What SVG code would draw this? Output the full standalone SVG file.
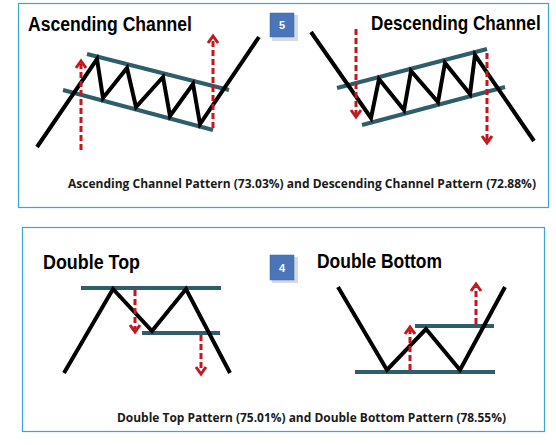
<svg xmlns="http://www.w3.org/2000/svg" width="556" height="445" viewBox="0 0 556 445">
<style>
.panel{fill:#fff;stroke:#3aa6d4;stroke-width:1.2}
.price{fill:none;stroke:#000;stroke-width:4;stroke-linejoin:miter;stroke-linecap:butt}
.chan{fill:none;stroke:#2e5e69;stroke-width:4}
.move{fill:none;stroke:#c4161c;stroke-width:3;stroke-dasharray:6 3}
.head{fill:none;stroke:#c4161c;stroke-width:3;stroke-linejoin:miter}
.title{font-family:"Liberation Sans",Arial,sans-serif;font-weight:bold;font-size:19.5px;fill:#000}
.cap{font-family:"Open Sans","Noto Sans",sans-serif;font-weight:bold;font-size:12.5px;fill:#1a1a1a}
.badge{fill:#4a76b9;stroke:#3a66a8;stroke-width:0.5}
.shadow{fill:#d6d9de}
.btxt{font-family:"Liberation Sans",Arial,sans-serif;font-weight:bold;font-size:11px;fill:#fff}
</style>
<rect class="panel" x="18.5" y="3.5" width="530" height="204"/>
<rect class="panel" x="22.5" y="227.5" width="522" height="204"/>

<g id="ascending-channel">
<text class="title" x="28" y="31" textLength="164" lengthAdjust="spacingAndGlyphs">Ascending Channel</text>
<line class="chan" x1="87" y1="54" x2="229" y2="90"/>
<line class="chan" x1="63" y1="90" x2="213" y2="130"/>
<polyline class="price" points="37,147 97,59 103,98 127,68 136,107 163,77 170,116 193,84 200,124 259,37"/>
<line class="move" x1="81" y1="150" x2="81" y2="64"/>
<polyline class="head" points="76,68 81,61 86,68"/>
<line class="move" x1="213" y1="128" x2="213" y2="39"/>
<polyline class="head" points="208,43 213,36 218,43"/>
</g>

<g id="badge-5">
<rect class="shadow" x="272" y="15" width="26" height="26"/>
<rect class="badge" x="270" y="13" width="24" height="24"/>
<text class="btxt" x="282" y="29" text-anchor="middle">5</text>
</g>

<g id="descending-channel">
<text class="title" transform="translate(371,30) scale(0.88,1)" x="0" y="0">Descending Channel</text>
<line class="chan" x1="337" y1="88" x2="487" y2="49"/>
<line class="chan" x1="362" y1="125" x2="505" y2="87"/>
<polyline class="price" points="311,32 371,118 379,79 404,110 411,71 438,102 445,63 470,94 475,55 534,141"/>
<line class="move" x1="356" y1="29" x2="356" y2="114"/>
<polyline class="head" points="351,110 356,117 361,110"/>
<line class="move" x1="487" y1="53" x2="487" y2="140"/>
<polyline class="head" points="482,136 487,143 492,136"/>
</g>

<text class="cap" x="68" y="188" textLength="468" lengthAdjust="spacingAndGlyphs">Ascending Channel Pattern (73.03%) and Descending Channel Pattern (72.88%)</text>

<g id="double-top">
<text class="title" x="43" y="269" textLength="97" lengthAdjust="spacingAndGlyphs">Double Top</text>
<line class="chan" x1="81" y1="288" x2="221" y2="288"/>
<line class="chan" x1="142" y1="333" x2="220" y2="333"/>
<polyline class="price" points="64,373 113,289 152,331 186,289 230,373"/>
<line class="move" x1="135" y1="290" x2="135" y2="329"/>
<polyline class="head" points="130,325 135,332 140,325"/>
<line class="move" x1="201" y1="335" x2="201" y2="371"/>
<polyline class="head" points="196,367 201,374 206,367"/>
</g>

<g id="badge-4">
<rect class="shadow" x="272" y="257" width="26" height="26"/>
<rect class="badge" x="270" y="255" width="24" height="25"/>
<text class="btxt" x="282" y="272" text-anchor="middle">4</text>
</g>

<g id="double-bottom">
<text class="title" x="317" y="268" textLength="125" lengthAdjust="spacingAndGlyphs">Double Bottom</text>
<line class="chan" x1="355" y1="372" x2="495" y2="372"/>
<line class="chan" x1="415" y1="326" x2="494" y2="326"/>
<polyline class="price" points="338,287 387,370 426,329 460,370 505,287"/>
<line class="move" x1="410" y1="370" x2="410" y2="330"/>
<polyline class="head" points="405,334 410,327 415,334"/>
<line class="move" x1="476" y1="324" x2="476" y2="287"/>
<polyline class="head" points="471,291 476,284 481,291"/>
</g>

<text class="cap" x="117" y="422" textLength="389" lengthAdjust="spacingAndGlyphs">Double Top Pattern (75.01%) and Double Bottom Pattern (78.55%)</text>
</svg>
